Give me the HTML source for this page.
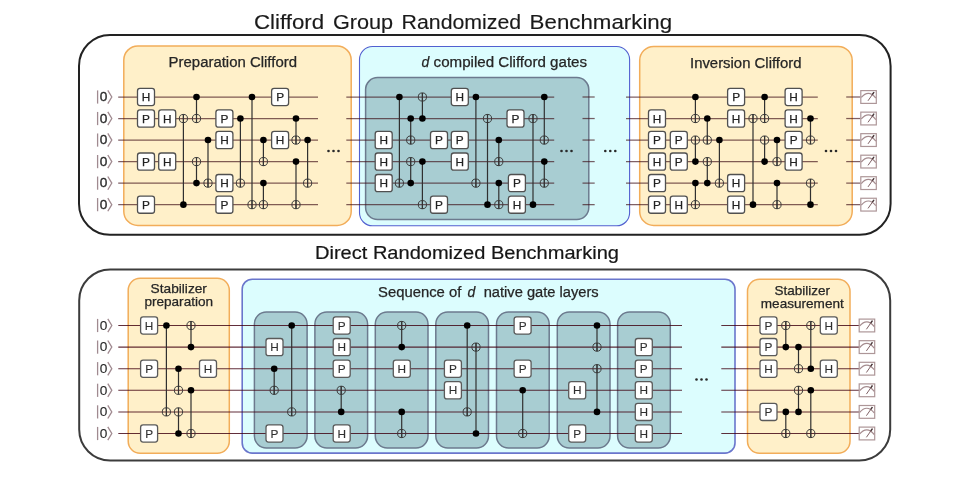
<!DOCTYPE html>
<html><head><meta charset="utf-8"><title>Randomized Benchmarking</title>
<style>html,body{margin:0;padding:0;background:#fff;width:960px;height:480px;overflow:hidden}</style>
</head><body>
<svg width="960" height="480" viewBox="0 0 960 480" style="display:block;will-change:transform">
<g font-family='"Liberation Sans", sans-serif'>
<text x="254.0" y="28.5" font-size="20.5" fill="#1a1a1a" text-anchor="start" textLength="70.2" lengthAdjust="spacingAndGlyphs" stroke="#1a1a1a" stroke-width="0.15" >Clifford</text>
<text x="332.9" y="28.5" font-size="20.5" fill="#1a1a1a" text-anchor="start" textLength="60.2" lengthAdjust="spacingAndGlyphs" stroke="#1a1a1a" stroke-width="0.15" >Group</text>
<text x="401.6" y="28.5" font-size="20.5" fill="#1a1a1a" text-anchor="start" textLength="119.6" lengthAdjust="spacingAndGlyphs" stroke="#1a1a1a" stroke-width="0.15" >Randomized</text>
<text x="529.6" y="28.5" font-size="20.5" fill="#1a1a1a" text-anchor="start" textLength="142.6" lengthAdjust="spacingAndGlyphs" stroke="#1a1a1a" stroke-width="0.15" >Benchmarking</text>
<text x="315" y="258.6" font-size="18.3" fill="#161616" text-anchor="start" textLength="304" lengthAdjust="spacingAndGlyphs" stroke="#161616" stroke-width="0.2" >Direct Randomized Benchmarking</text>
<rect x="79" y="35" width="811.60" height="199.80" rx="31" fill="#fff" stroke="#222" stroke-width="2"/>
<rect x="79.2" y="269.5" width="811.00" height="191.00" rx="31" fill="#fff" stroke="#3c3c3c" stroke-width="2"/>
<rect x="123.8" y="46" width="227.40" height="179.40" rx="14" fill="#fff0c9" stroke="#f2ad5a" stroke-width="1.5"/>
<rect x="359.5" y="46.5" width="270.10" height="179.30" rx="13" fill="#dcfdfe" stroke="#5260d0" stroke-width="1.1"/>
<rect x="365.6" y="77.6" width="223.20" height="142.00" rx="12" fill="#a8cdd2" stroke="#6c7a8e" stroke-width="1.5"/>
<rect x="639.7" y="46.4" width="212.50" height="179.00" rx="14" fill="#fff0c9" stroke="#f2ad5a" stroke-width="1.5"/>
<text x="168.6" y="66.8" font-size="14" fill="#262626" text-anchor="start" textLength="128.4" lengthAdjust="spacingAndGlyphs" stroke="#262626" stroke-width="0.25" >Preparation Clifford</text>
<text x="421.6" y="66.6" font-size="14" fill="#262626" text-anchor="start" stroke="#262626" stroke-width="0.25" font-style="italic">d</text>
<text x="433.6" y="66.6" font-size="14" fill="#262626" text-anchor="start" textLength="153.5" lengthAdjust="spacingAndGlyphs" stroke="#262626" stroke-width="0.25" >compiled Clifford gates</text>
<text x="690.0" y="68.1" font-size="14" fill="#262626" text-anchor="start" textLength="111.5" lengthAdjust="spacingAndGlyphs" stroke="#262626" stroke-width="0.25" >Inversion Clifford</text>
<line x1="97.6" y1="90.4" x2="97.6" y2="103.6" stroke="#a08a90" stroke-width="1.3"/>
<text transform="translate(103.6,101.3) scale(1.14,1)" x="0" y="0" font-size="12" fill="#2a2a2a" stroke="#2a2a2a" stroke-width="0.3" text-anchor="middle">0</text>
<polyline points="107.8,90.4 111.8,97.0 107.8,103.6" fill="none" stroke="#a08a90" stroke-width="1.3"/>
<line x1="118.2" y1="97.0" x2="318" y2="97.0" stroke="#3e0e16" stroke-opacity="0.66" stroke-width="1.25"/>
<line x1="346.3" y1="97.0" x2="554.2" y2="97.0" stroke="#3e0e16" stroke-opacity="0.66" stroke-width="1.25"/>
<line x1="582.5" y1="97.0" x2="594.7" y2="97.0" stroke="#3e0e16" stroke-opacity="0.66" stroke-width="1.25"/>
<line x1="626" y1="97.0" x2="817.8" y2="97.0" stroke="#3e0e16" stroke-opacity="0.66" stroke-width="1.25"/>
<line x1="846.2" y1="97.0" x2="860.3" y2="97.0" stroke="#3e0e16" stroke-opacity="0.66" stroke-width="1.25"/>
<rect x="860.8" y="90.6" width="15.5" height="12.8" fill="#fff" stroke="#ad9698" stroke-width="1.2"/>
<path d="M861.3,97.4 Q868.4,89.0 875.8,98.0" fill="none" stroke="#a58c8f" stroke-width="1.2"/>
<line x1="868.0" y1="100.8" x2="874.0" y2="92.2" stroke="#806266" stroke-width="1.0"/>
<line x1="872.4" y1="94.5" x2="874.0" y2="92.2" stroke="#4a3a3c" stroke-width="1.4"/>
<line x1="97.6" y1="111.93" x2="97.6" y2="125.13" stroke="#a08a90" stroke-width="1.3"/>
<text transform="translate(103.6,122.83) scale(1.14,1)" x="0" y="0" font-size="12" fill="#2a2a2a" stroke="#2a2a2a" stroke-width="0.3" text-anchor="middle">0</text>
<polyline points="107.8,111.93 111.8,118.53 107.8,125.13" fill="none" stroke="#a08a90" stroke-width="1.3"/>
<line x1="118.2" y1="118.53" x2="318" y2="118.53" stroke="#3e0e16" stroke-opacity="0.66" stroke-width="1.25"/>
<line x1="346.3" y1="118.53" x2="554.2" y2="118.53" stroke="#3e0e16" stroke-opacity="0.66" stroke-width="1.25"/>
<line x1="582.5" y1="118.53" x2="594.7" y2="118.53" stroke="#3e0e16" stroke-opacity="0.66" stroke-width="1.25"/>
<line x1="626" y1="118.53" x2="817.8" y2="118.53" stroke="#3e0e16" stroke-opacity="0.66" stroke-width="1.25"/>
<line x1="846.2" y1="118.53" x2="860.3" y2="118.53" stroke="#3e0e16" stroke-opacity="0.66" stroke-width="1.25"/>
<rect x="860.8" y="112.13" width="15.5" height="12.8" fill="#fff" stroke="#ad9698" stroke-width="1.2"/>
<path d="M861.3,118.93 Q868.4,110.53 875.8,119.53" fill="none" stroke="#a58c8f" stroke-width="1.2"/>
<line x1="868.0" y1="122.33" x2="874.0" y2="113.73" stroke="#806266" stroke-width="1.0"/>
<line x1="872.4" y1="116.03" x2="874.0" y2="113.73" stroke="#4a3a3c" stroke-width="1.4"/>
<line x1="97.6" y1="133.46" x2="97.6" y2="146.66" stroke="#a08a90" stroke-width="1.3"/>
<text transform="translate(103.6,144.36) scale(1.14,1)" x="0" y="0" font-size="12" fill="#2a2a2a" stroke="#2a2a2a" stroke-width="0.3" text-anchor="middle">0</text>
<polyline points="107.8,133.46 111.8,140.06 107.8,146.66" fill="none" stroke="#a08a90" stroke-width="1.3"/>
<line x1="118.2" y1="140.06" x2="318" y2="140.06" stroke="#3e0e16" stroke-opacity="0.66" stroke-width="1.25"/>
<line x1="346.3" y1="140.06" x2="554.2" y2="140.06" stroke="#3e0e16" stroke-opacity="0.66" stroke-width="1.25"/>
<line x1="582.5" y1="140.06" x2="594.7" y2="140.06" stroke="#3e0e16" stroke-opacity="0.66" stroke-width="1.25"/>
<line x1="626" y1="140.06" x2="817.8" y2="140.06" stroke="#3e0e16" stroke-opacity="0.66" stroke-width="1.25"/>
<line x1="846.2" y1="140.06" x2="860.3" y2="140.06" stroke="#3e0e16" stroke-opacity="0.66" stroke-width="1.25"/>
<rect x="860.8" y="133.66" width="15.5" height="12.8" fill="#fff" stroke="#ad9698" stroke-width="1.2"/>
<path d="M861.3,140.46 Q868.4,132.06 875.8,141.06" fill="none" stroke="#a58c8f" stroke-width="1.2"/>
<line x1="868.0" y1="143.86" x2="874.0" y2="135.26" stroke="#806266" stroke-width="1.0"/>
<line x1="872.4" y1="137.56" x2="874.0" y2="135.26" stroke="#4a3a3c" stroke-width="1.4"/>
<line x1="97.6" y1="154.99" x2="97.6" y2="168.19" stroke="#a08a90" stroke-width="1.3"/>
<text transform="translate(103.6,165.89000000000001) scale(1.14,1)" x="0" y="0" font-size="12" fill="#2a2a2a" stroke="#2a2a2a" stroke-width="0.3" text-anchor="middle">0</text>
<polyline points="107.8,154.99 111.8,161.59 107.8,168.19" fill="none" stroke="#a08a90" stroke-width="1.3"/>
<line x1="118.2" y1="161.59" x2="318" y2="161.59" stroke="#3e0e16" stroke-opacity="0.66" stroke-width="1.25"/>
<line x1="346.3" y1="161.59" x2="554.2" y2="161.59" stroke="#3e0e16" stroke-opacity="0.66" stroke-width="1.25"/>
<line x1="582.5" y1="161.59" x2="594.7" y2="161.59" stroke="#3e0e16" stroke-opacity="0.66" stroke-width="1.25"/>
<line x1="626" y1="161.59" x2="817.8" y2="161.59" stroke="#3e0e16" stroke-opacity="0.66" stroke-width="1.25"/>
<line x1="846.2" y1="161.59" x2="860.3" y2="161.59" stroke="#3e0e16" stroke-opacity="0.66" stroke-width="1.25"/>
<rect x="860.8" y="155.19" width="15.5" height="12.8" fill="#fff" stroke="#ad9698" stroke-width="1.2"/>
<path d="M861.3,161.99 Q868.4,153.59 875.8,162.59" fill="none" stroke="#a58c8f" stroke-width="1.2"/>
<line x1="868.0" y1="165.39000000000001" x2="874.0" y2="156.79" stroke="#806266" stroke-width="1.0"/>
<line x1="872.4" y1="159.09" x2="874.0" y2="156.79" stroke="#4a3a3c" stroke-width="1.4"/>
<line x1="97.6" y1="176.52" x2="97.6" y2="189.72" stroke="#a08a90" stroke-width="1.3"/>
<text transform="translate(103.6,187.42000000000002) scale(1.14,1)" x="0" y="0" font-size="12" fill="#2a2a2a" stroke="#2a2a2a" stroke-width="0.3" text-anchor="middle">0</text>
<polyline points="107.8,176.52 111.8,183.12 107.8,189.72" fill="none" stroke="#a08a90" stroke-width="1.3"/>
<line x1="118.2" y1="183.12" x2="318" y2="183.12" stroke="#3e0e16" stroke-opacity="0.66" stroke-width="1.25"/>
<line x1="346.3" y1="183.12" x2="554.2" y2="183.12" stroke="#3e0e16" stroke-opacity="0.66" stroke-width="1.25"/>
<line x1="582.5" y1="183.12" x2="594.7" y2="183.12" stroke="#3e0e16" stroke-opacity="0.66" stroke-width="1.25"/>
<line x1="626" y1="183.12" x2="817.8" y2="183.12" stroke="#3e0e16" stroke-opacity="0.66" stroke-width="1.25"/>
<line x1="846.2" y1="183.12" x2="860.3" y2="183.12" stroke="#3e0e16" stroke-opacity="0.66" stroke-width="1.25"/>
<rect x="860.8" y="176.72" width="15.5" height="12.8" fill="#fff" stroke="#ad9698" stroke-width="1.2"/>
<path d="M861.3,183.52 Q868.4,175.12 875.8,184.12" fill="none" stroke="#a58c8f" stroke-width="1.2"/>
<line x1="868.0" y1="186.92000000000002" x2="874.0" y2="178.32" stroke="#806266" stroke-width="1.0"/>
<line x1="872.4" y1="180.62" x2="874.0" y2="178.32" stroke="#4a3a3c" stroke-width="1.4"/>
<line x1="97.6" y1="198.05" x2="97.6" y2="211.25" stroke="#a08a90" stroke-width="1.3"/>
<text transform="translate(103.6,208.95000000000002) scale(1.14,1)" x="0" y="0" font-size="12" fill="#2a2a2a" stroke="#2a2a2a" stroke-width="0.3" text-anchor="middle">0</text>
<polyline points="107.8,198.05 111.8,204.65 107.8,211.25" fill="none" stroke="#a08a90" stroke-width="1.3"/>
<line x1="118.2" y1="204.65" x2="318" y2="204.65" stroke="#3e0e16" stroke-opacity="0.66" stroke-width="1.25"/>
<line x1="346.3" y1="204.65" x2="554.2" y2="204.65" stroke="#3e0e16" stroke-opacity="0.66" stroke-width="1.25"/>
<line x1="582.5" y1="204.65" x2="594.7" y2="204.65" stroke="#3e0e16" stroke-opacity="0.66" stroke-width="1.25"/>
<line x1="626" y1="204.65" x2="817.8" y2="204.65" stroke="#3e0e16" stroke-opacity="0.66" stroke-width="1.25"/>
<line x1="846.2" y1="204.65" x2="860.3" y2="204.65" stroke="#3e0e16" stroke-opacity="0.66" stroke-width="1.25"/>
<rect x="860.8" y="198.25" width="15.5" height="12.8" fill="#fff" stroke="#ad9698" stroke-width="1.2"/>
<path d="M861.3,205.05 Q868.4,196.65 875.8,205.65" fill="none" stroke="#a58c8f" stroke-width="1.2"/>
<line x1="868.0" y1="208.45000000000002" x2="874.0" y2="199.85" stroke="#806266" stroke-width="1.0"/>
<line x1="872.4" y1="202.15" x2="874.0" y2="199.85" stroke="#4a3a3c" stroke-width="1.4"/>
<circle cx="328.5" cy="151" r="1.3" fill="#2a2a2a"/>
<circle cx="333.5" cy="151" r="1.3" fill="#2a2a2a"/>
<circle cx="338.5" cy="151" r="1.3" fill="#2a2a2a"/>
<circle cx="561.5" cy="151" r="1.3" fill="#2a2a2a"/>
<circle cx="566.5" cy="151" r="1.3" fill="#2a2a2a"/>
<circle cx="571.5" cy="151" r="1.3" fill="#2a2a2a"/>
<circle cx="605.3" cy="151" r="1.3" fill="#2a2a2a"/>
<circle cx="610.3" cy="151" r="1.3" fill="#2a2a2a"/>
<circle cx="615.3" cy="151" r="1.3" fill="#2a2a2a"/>
<circle cx="826" cy="151" r="1.3" fill="#2a2a2a"/>
<circle cx="831" cy="151" r="1.3" fill="#2a2a2a"/>
<circle cx="836" cy="151" r="1.3" fill="#2a2a2a"/>
<rect x="137.50" y="88.40" width="17.0" height="17.2" rx="2.5" fill="#fff" stroke="#505050" stroke-width="1.3"/>
<text x="146.00" y="101.10" font-size="11.8" fill="#222222" stroke="#222222" stroke-width="0.25" text-anchor="middle">H</text>
<rect x="271.60" y="88.40" width="17.0" height="17.2" rx="2.5" fill="#fff" stroke="#505050" stroke-width="1.3"/>
<text x="280.10" y="101.10" font-size="11.8" fill="#222222" stroke="#222222" stroke-width="0.25" text-anchor="middle">P</text>
<rect x="137.50" y="109.93" width="17.0" height="17.2" rx="2.5" fill="#fff" stroke="#505050" stroke-width="1.3"/>
<text x="146.00" y="122.63" font-size="11.8" fill="#222222" stroke="#222222" stroke-width="0.25" text-anchor="middle">P</text>
<rect x="158.70" y="109.93" width="17.0" height="17.2" rx="2.5" fill="#fff" stroke="#505050" stroke-width="1.3"/>
<text x="167.20" y="122.63" font-size="11.8" fill="#222222" stroke="#222222" stroke-width="0.25" text-anchor="middle">H</text>
<rect x="215.90" y="109.93" width="17.0" height="17.2" rx="2.5" fill="#fff" stroke="#505050" stroke-width="1.3"/>
<text x="224.40" y="122.63" font-size="11.8" fill="#222222" stroke="#222222" stroke-width="0.25" text-anchor="middle">P</text>
<rect x="215.90" y="131.46" width="17.0" height="17.2" rx="2.5" fill="#fff" stroke="#505050" stroke-width="1.3"/>
<text x="224.40" y="144.16" font-size="11.8" fill="#222222" stroke="#222222" stroke-width="0.25" text-anchor="middle">H</text>
<rect x="271.60" y="131.46" width="17.0" height="17.2" rx="2.5" fill="#fff" stroke="#505050" stroke-width="1.3"/>
<text x="280.10" y="144.16" font-size="11.8" fill="#222222" stroke="#222222" stroke-width="0.25" text-anchor="middle">H</text>
<rect x="137.50" y="152.99" width="17.0" height="17.2" rx="2.5" fill="#fff" stroke="#505050" stroke-width="1.3"/>
<text x="146.00" y="165.69" font-size="11.8" fill="#222222" stroke="#222222" stroke-width="0.25" text-anchor="middle">P</text>
<rect x="158.70" y="152.99" width="17.0" height="17.2" rx="2.5" fill="#fff" stroke="#505050" stroke-width="1.3"/>
<text x="167.20" y="165.69" font-size="11.8" fill="#222222" stroke="#222222" stroke-width="0.25" text-anchor="middle">H</text>
<rect x="215.90" y="174.52" width="17.0" height="17.2" rx="2.5" fill="#fff" stroke="#505050" stroke-width="1.3"/>
<text x="224.40" y="187.22" font-size="11.8" fill="#222222" stroke="#222222" stroke-width="0.25" text-anchor="middle">H</text>
<rect x="137.50" y="196.05" width="17.0" height="17.2" rx="2.5" fill="#fff" stroke="#505050" stroke-width="1.3"/>
<text x="146.00" y="208.75" font-size="11.8" fill="#222222" stroke="#222222" stroke-width="0.25" text-anchor="middle">P</text>
<rect x="215.90" y="196.05" width="17.0" height="17.2" rx="2.5" fill="#fff" stroke="#505050" stroke-width="1.3"/>
<text x="224.40" y="208.75" font-size="11.8" fill="#222222" stroke="#222222" stroke-width="0.25" text-anchor="middle">P</text>
<line x1="183.4" y1="204.65" x2="183.4" y2="114.43" stroke="#303030" stroke-width="1.2"/>
<circle cx="183.4" cy="204.65" r="3.3" fill="#000"/>
<circle cx="183.4" cy="118.53" r="4.1" fill="none" stroke="#3a3a3a" stroke-width="1.0"/>
<line x1="183.4" y1="114.43" x2="183.4" y2="122.63" stroke="#333" stroke-width="1"/>
<line x1="196.5" y1="97.0" x2="196.5" y2="122.63" stroke="#303030" stroke-width="1.2"/>
<circle cx="196.5" cy="97.0" r="3.3" fill="#000"/>
<circle cx="196.5" cy="118.53" r="4.1" fill="none" stroke="#3a3a3a" stroke-width="1.0"/>
<line x1="196.5" y1="114.43" x2="196.5" y2="122.63" stroke="#333" stroke-width="1"/>
<line x1="196.5" y1="183.12" x2="196.5" y2="157.49" stroke="#303030" stroke-width="1.2"/>
<circle cx="196.5" cy="183.12" r="3.3" fill="#000"/>
<circle cx="196.5" cy="161.59" r="4.1" fill="none" stroke="#3a3a3a" stroke-width="1.0"/>
<line x1="196.5" y1="157.49" x2="196.5" y2="165.69" stroke="#333" stroke-width="1"/>
<line x1="208" y1="140.06" x2="208" y2="187.22" stroke="#303030" stroke-width="1.2"/>
<circle cx="208" cy="140.06" r="3.3" fill="#000"/>
<circle cx="208" cy="183.12" r="4.1" fill="none" stroke="#3a3a3a" stroke-width="1.0"/>
<line x1="208" y1="179.02" x2="208" y2="187.22" stroke="#333" stroke-width="1"/>
<line x1="240.4" y1="118.53" x2="240.4" y2="187.22" stroke="#303030" stroke-width="1.2"/>
<circle cx="240.4" cy="118.53" r="3.3" fill="#000"/>
<circle cx="240.4" cy="183.12" r="4.1" fill="none" stroke="#3a3a3a" stroke-width="1.0"/>
<line x1="240.4" y1="179.02" x2="240.4" y2="187.22" stroke="#333" stroke-width="1"/>
<line x1="252" y1="97.0" x2="252" y2="208.75" stroke="#303030" stroke-width="1.2"/>
<circle cx="252" cy="97.0" r="3.3" fill="#000"/>
<circle cx="252" cy="204.65" r="4.1" fill="none" stroke="#3a3a3a" stroke-width="1.0"/>
<line x1="252" y1="200.55" x2="252" y2="208.75" stroke="#333" stroke-width="1"/>
<line x1="263.4" y1="140.06" x2="263.4" y2="165.69" stroke="#303030" stroke-width="1.2"/>
<circle cx="263.4" cy="140.06" r="3.3" fill="#000"/>
<circle cx="263.4" cy="161.59" r="4.1" fill="none" stroke="#3a3a3a" stroke-width="1.0"/>
<line x1="263.4" y1="157.49" x2="263.4" y2="165.69" stroke="#333" stroke-width="1"/>
<line x1="263.4" y1="183.12" x2="263.4" y2="208.75" stroke="#303030" stroke-width="1.2"/>
<circle cx="263.4" cy="183.12" r="3.3" fill="#000"/>
<circle cx="263.4" cy="204.65" r="4.1" fill="none" stroke="#3a3a3a" stroke-width="1.0"/>
<line x1="263.4" y1="200.55" x2="263.4" y2="208.75" stroke="#333" stroke-width="1"/>
<line x1="296" y1="118.53" x2="296" y2="144.16" stroke="#303030" stroke-width="1.2"/>
<circle cx="296" cy="118.53" r="3.3" fill="#000"/>
<circle cx="296" cy="140.06" r="4.1" fill="none" stroke="#3a3a3a" stroke-width="1.0"/>
<line x1="296" y1="135.96" x2="296" y2="144.16" stroke="#333" stroke-width="1"/>
<line x1="296" y1="161.59" x2="296" y2="208.75" stroke="#303030" stroke-width="1.2"/>
<circle cx="296" cy="161.59" r="3.3" fill="#000"/>
<circle cx="296" cy="204.65" r="4.1" fill="none" stroke="#3a3a3a" stroke-width="1.0"/>
<line x1="296" y1="200.55" x2="296" y2="208.75" stroke="#333" stroke-width="1"/>
<line x1="307.6" y1="140.06" x2="307.6" y2="187.22" stroke="#303030" stroke-width="1.2"/>
<circle cx="307.6" cy="140.06" r="3.3" fill="#000"/>
<circle cx="307.6" cy="183.12" r="4.1" fill="none" stroke="#3a3a3a" stroke-width="1.0"/>
<line x1="307.6" y1="179.02" x2="307.6" y2="187.22" stroke="#333" stroke-width="1"/>
<rect x="375.20" y="131.46" width="17.0" height="17.2" rx="2.5" fill="#fff" stroke="#505050" stroke-width="1.3"/>
<text x="383.70" y="144.16" font-size="11.8" fill="#222222" stroke="#222222" stroke-width="0.25" text-anchor="middle">H</text>
<rect x="375.20" y="152.99" width="17.0" height="17.2" rx="2.5" fill="#fff" stroke="#505050" stroke-width="1.3"/>
<text x="383.70" y="165.69" font-size="11.8" fill="#222222" stroke="#222222" stroke-width="0.25" text-anchor="middle">H</text>
<rect x="375.20" y="174.52" width="17.0" height="17.2" rx="2.5" fill="#fff" stroke="#505050" stroke-width="1.3"/>
<text x="383.70" y="187.22" font-size="11.8" fill="#222222" stroke="#222222" stroke-width="0.25" text-anchor="middle">H</text>
<rect x="430.50" y="131.46" width="17.0" height="17.2" rx="2.5" fill="#fff" stroke="#505050" stroke-width="1.3"/>
<text x="439.00" y="144.16" font-size="11.8" fill="#222222" stroke="#222222" stroke-width="0.25" text-anchor="middle">P</text>
<rect x="430.50" y="196.05" width="17.0" height="17.2" rx="2.5" fill="#fff" stroke="#505050" stroke-width="1.3"/>
<text x="439.00" y="208.75" font-size="11.8" fill="#222222" stroke="#222222" stroke-width="0.25" text-anchor="middle">P</text>
<rect x="451.30" y="88.40" width="17.0" height="17.2" rx="2.5" fill="#fff" stroke="#505050" stroke-width="1.3"/>
<text x="459.80" y="101.10" font-size="11.8" fill="#222222" stroke="#222222" stroke-width="0.25" text-anchor="middle">H</text>
<rect x="451.30" y="131.46" width="17.0" height="17.2" rx="2.5" fill="#fff" stroke="#505050" stroke-width="1.3"/>
<text x="459.80" y="144.16" font-size="11.8" fill="#222222" stroke="#222222" stroke-width="0.25" text-anchor="middle">P</text>
<rect x="451.30" y="152.99" width="17.0" height="17.2" rx="2.5" fill="#fff" stroke="#505050" stroke-width="1.3"/>
<text x="459.80" y="165.69" font-size="11.8" fill="#222222" stroke="#222222" stroke-width="0.25" text-anchor="middle">H</text>
<rect x="507.00" y="109.93" width="17.0" height="17.2" rx="2.5" fill="#fff" stroke="#505050" stroke-width="1.3"/>
<text x="515.50" y="122.63" font-size="11.8" fill="#222222" stroke="#222222" stroke-width="0.25" text-anchor="middle">P</text>
<rect x="508.40" y="174.52" width="17.0" height="17.2" rx="2.5" fill="#fff" stroke="#505050" stroke-width="1.3"/>
<text x="516.90" y="187.22" font-size="11.8" fill="#222222" stroke="#222222" stroke-width="0.25" text-anchor="middle">P</text>
<rect x="508.40" y="196.05" width="17.0" height="17.2" rx="2.5" fill="#fff" stroke="#505050" stroke-width="1.3"/>
<text x="516.90" y="208.75" font-size="11.8" fill="#222222" stroke="#222222" stroke-width="0.25" text-anchor="middle">H</text>
<line x1="399.4" y1="97.0" x2="399.4" y2="187.22" stroke="#303030" stroke-width="1.2"/>
<circle cx="399.4" cy="97.0" r="3.3" fill="#000"/>
<circle cx="399.4" cy="183.12" r="4.1" fill="none" stroke="#3a3a3a" stroke-width="1.0"/>
<line x1="399.4" y1="179.02" x2="399.4" y2="187.22" stroke="#333" stroke-width="1"/>
<line x1="410.7" y1="118.53" x2="410.7" y2="144.16" stroke="#303030" stroke-width="1.2"/>
<circle cx="410.7" cy="118.53" r="3.3" fill="#000"/>
<circle cx="410.7" cy="140.06" r="4.1" fill="none" stroke="#3a3a3a" stroke-width="1.0"/>
<line x1="410.7" y1="135.96" x2="410.7" y2="144.16" stroke="#333" stroke-width="1"/>
<line x1="410.7" y1="183.12" x2="410.7" y2="157.49" stroke="#303030" stroke-width="1.2"/>
<circle cx="410.7" cy="183.12" r="3.3" fill="#000"/>
<circle cx="410.7" cy="161.59" r="4.1" fill="none" stroke="#3a3a3a" stroke-width="1.0"/>
<line x1="410.7" y1="157.49" x2="410.7" y2="165.69" stroke="#333" stroke-width="1"/>
<line x1="422.4" y1="118.53" x2="422.4" y2="92.9" stroke="#303030" stroke-width="1.2"/>
<circle cx="422.4" cy="118.53" r="3.3" fill="#000"/>
<circle cx="422.4" cy="97.0" r="4.1" fill="none" stroke="#3a3a3a" stroke-width="1.0"/>
<line x1="422.4" y1="92.9" x2="422.4" y2="101.1" stroke="#333" stroke-width="1"/>
<line x1="422.4" y1="161.59" x2="422.4" y2="208.75" stroke="#303030" stroke-width="1.2"/>
<circle cx="422.4" cy="161.59" r="3.3" fill="#000"/>
<circle cx="422.4" cy="204.65" r="4.1" fill="none" stroke="#3a3a3a" stroke-width="1.0"/>
<line x1="422.4" y1="200.55" x2="422.4" y2="208.75" stroke="#333" stroke-width="1"/>
<line x1="475.9" y1="97.0" x2="475.9" y2="187.22" stroke="#303030" stroke-width="1.2"/>
<circle cx="475.9" cy="97.0" r="3.3" fill="#000"/>
<circle cx="475.9" cy="183.12" r="4.1" fill="none" stroke="#3a3a3a" stroke-width="1.0"/>
<line x1="475.9" y1="179.02" x2="475.9" y2="187.22" stroke="#333" stroke-width="1"/>
<line x1="487.5" y1="204.65" x2="487.5" y2="114.43" stroke="#303030" stroke-width="1.2"/>
<circle cx="487.5" cy="204.65" r="3.3" fill="#000"/>
<circle cx="487.5" cy="118.53" r="4.1" fill="none" stroke="#3a3a3a" stroke-width="1.0"/>
<line x1="487.5" y1="114.43" x2="487.5" y2="122.63" stroke="#333" stroke-width="1"/>
<line x1="498.8" y1="140.06" x2="498.8" y2="165.69" stroke="#303030" stroke-width="1.2"/>
<circle cx="498.8" cy="140.06" r="3.3" fill="#000"/>
<circle cx="498.8" cy="161.59" r="4.1" fill="none" stroke="#3a3a3a" stroke-width="1.0"/>
<line x1="498.8" y1="157.49" x2="498.8" y2="165.69" stroke="#333" stroke-width="1"/>
<line x1="498.8" y1="183.12" x2="498.8" y2="208.75" stroke="#303030" stroke-width="1.2"/>
<circle cx="498.8" cy="183.12" r="3.3" fill="#000"/>
<circle cx="498.8" cy="204.65" r="4.1" fill="none" stroke="#3a3a3a" stroke-width="1.0"/>
<line x1="498.8" y1="200.55" x2="498.8" y2="208.75" stroke="#333" stroke-width="1"/>
<line x1="533" y1="204.65" x2="533" y2="114.43" stroke="#303030" stroke-width="1.2"/>
<circle cx="533" cy="204.65" r="3.3" fill="#000"/>
<circle cx="533" cy="118.53" r="4.1" fill="none" stroke="#3a3a3a" stroke-width="1.0"/>
<line x1="533" y1="114.43" x2="533" y2="122.63" stroke="#333" stroke-width="1"/>
<line x1="544.3" y1="97.0" x2="544.3" y2="144.16" stroke="#303030" stroke-width="1.2"/>
<circle cx="544.3" cy="97.0" r="3.3" fill="#000"/>
<circle cx="544.3" cy="140.06" r="4.1" fill="none" stroke="#3a3a3a" stroke-width="1.0"/>
<line x1="544.3" y1="135.96" x2="544.3" y2="144.16" stroke="#333" stroke-width="1"/>
<line x1="544.3" y1="161.59" x2="544.3" y2="187.22" stroke="#303030" stroke-width="1.2"/>
<circle cx="544.3" cy="161.59" r="3.3" fill="#000"/>
<circle cx="544.3" cy="183.12" r="4.1" fill="none" stroke="#3a3a3a" stroke-width="1.0"/>
<line x1="544.3" y1="179.02" x2="544.3" y2="187.22" stroke="#333" stroke-width="1"/>
<rect x="727.60" y="88.40" width="17.0" height="17.2" rx="2.5" fill="#fff" stroke="#505050" stroke-width="1.3"/>
<text x="736.10" y="101.10" font-size="11.8" fill="#222222" stroke="#222222" stroke-width="0.25" text-anchor="middle">P</text>
<rect x="785.10" y="88.40" width="17.0" height="17.2" rx="2.5" fill="#fff" stroke="#505050" stroke-width="1.3"/>
<text x="793.60" y="101.10" font-size="11.8" fill="#222222" stroke="#222222" stroke-width="0.25" text-anchor="middle">H</text>
<rect x="648.50" y="109.93" width="17.0" height="17.2" rx="2.5" fill="#fff" stroke="#505050" stroke-width="1.3"/>
<text x="657.00" y="122.63" font-size="11.8" fill="#222222" stroke="#222222" stroke-width="0.25" text-anchor="middle">H</text>
<rect x="727.60" y="109.93" width="17.0" height="17.2" rx="2.5" fill="#fff" stroke="#505050" stroke-width="1.3"/>
<text x="736.10" y="122.63" font-size="11.8" fill="#222222" stroke="#222222" stroke-width="0.25" text-anchor="middle">H</text>
<rect x="785.10" y="109.93" width="17.0" height="17.2" rx="2.5" fill="#fff" stroke="#505050" stroke-width="1.3"/>
<text x="793.60" y="122.63" font-size="11.8" fill="#222222" stroke="#222222" stroke-width="0.25" text-anchor="middle">H</text>
<rect x="648.50" y="131.46" width="17.0" height="17.2" rx="2.5" fill="#fff" stroke="#505050" stroke-width="1.3"/>
<text x="657.00" y="144.16" font-size="11.8" fill="#222222" stroke="#222222" stroke-width="0.25" text-anchor="middle">P</text>
<rect x="670.30" y="131.46" width="17.0" height="17.2" rx="2.5" fill="#fff" stroke="#505050" stroke-width="1.3"/>
<text x="678.80" y="144.16" font-size="11.8" fill="#222222" stroke="#222222" stroke-width="0.25" text-anchor="middle">P</text>
<rect x="785.10" y="131.46" width="17.0" height="17.2" rx="2.5" fill="#fff" stroke="#505050" stroke-width="1.3"/>
<text x="793.60" y="144.16" font-size="11.8" fill="#222222" stroke="#222222" stroke-width="0.25" text-anchor="middle">P</text>
<rect x="648.50" y="152.99" width="17.0" height="17.2" rx="2.5" fill="#fff" stroke="#505050" stroke-width="1.3"/>
<text x="657.00" y="165.69" font-size="11.8" fill="#222222" stroke="#222222" stroke-width="0.25" text-anchor="middle">H</text>
<rect x="670.30" y="152.99" width="17.0" height="17.2" rx="2.5" fill="#fff" stroke="#505050" stroke-width="1.3"/>
<text x="678.80" y="165.69" font-size="11.8" fill="#222222" stroke="#222222" stroke-width="0.25" text-anchor="middle">P</text>
<rect x="785.10" y="152.99" width="17.0" height="17.2" rx="2.5" fill="#fff" stroke="#505050" stroke-width="1.3"/>
<text x="793.60" y="165.69" font-size="11.8" fill="#222222" stroke="#222222" stroke-width="0.25" text-anchor="middle">H</text>
<rect x="648.50" y="174.52" width="17.0" height="17.2" rx="2.5" fill="#fff" stroke="#505050" stroke-width="1.3"/>
<text x="657.00" y="187.22" font-size="11.8" fill="#222222" stroke="#222222" stroke-width="0.25" text-anchor="middle">P</text>
<rect x="727.60" y="174.52" width="17.0" height="17.2" rx="2.5" fill="#fff" stroke="#505050" stroke-width="1.3"/>
<text x="736.10" y="187.22" font-size="11.8" fill="#222222" stroke="#222222" stroke-width="0.25" text-anchor="middle">H</text>
<rect x="648.50" y="196.05" width="17.0" height="17.2" rx="2.5" fill="#fff" stroke="#505050" stroke-width="1.3"/>
<text x="657.00" y="208.75" font-size="11.8" fill="#222222" stroke="#222222" stroke-width="0.25" text-anchor="middle">P</text>
<rect x="670.30" y="196.05" width="17.0" height="17.2" rx="2.5" fill="#fff" stroke="#505050" stroke-width="1.3"/>
<text x="678.80" y="208.75" font-size="11.8" fill="#222222" stroke="#222222" stroke-width="0.25" text-anchor="middle">H</text>
<rect x="727.60" y="196.05" width="17.0" height="17.2" rx="2.5" fill="#fff" stroke="#505050" stroke-width="1.3"/>
<text x="736.10" y="208.75" font-size="11.8" fill="#222222" stroke="#222222" stroke-width="0.25" text-anchor="middle">H</text>
<line x1="695.4" y1="97.0" x2="695.4" y2="122.63" stroke="#303030" stroke-width="1.2"/>
<circle cx="695.4" cy="97.0" r="3.3" fill="#000"/>
<circle cx="695.4" cy="118.53" r="4.1" fill="none" stroke="#3a3a3a" stroke-width="1.0"/>
<line x1="695.4" y1="114.43" x2="695.4" y2="122.63" stroke="#333" stroke-width="1"/>
<line x1="695.4" y1="161.59" x2="695.4" y2="135.96" stroke="#303030" stroke-width="1.2"/>
<circle cx="695.4" cy="161.59" r="3.3" fill="#000"/>
<circle cx="695.4" cy="140.06" r="4.1" fill="none" stroke="#3a3a3a" stroke-width="1.0"/>
<line x1="695.4" y1="135.96" x2="695.4" y2="144.16" stroke="#333" stroke-width="1"/>
<line x1="695.4" y1="183.12" x2="695.4" y2="208.75" stroke="#303030" stroke-width="1.2"/>
<circle cx="695.4" cy="183.12" r="3.3" fill="#000"/>
<circle cx="695.4" cy="204.65" r="4.1" fill="none" stroke="#3a3a3a" stroke-width="1.0"/>
<line x1="695.4" y1="200.55" x2="695.4" y2="208.75" stroke="#333" stroke-width="1"/>
<line x1="707.3" y1="118.53" x2="707.3" y2="144.16" stroke="#303030" stroke-width="1.2"/>
<circle cx="707.3" cy="118.53" r="3.3" fill="#000"/>
<circle cx="707.3" cy="140.06" r="4.1" fill="none" stroke="#3a3a3a" stroke-width="1.0"/>
<line x1="707.3" y1="135.96" x2="707.3" y2="144.16" stroke="#333" stroke-width="1"/>
<line x1="707.3" y1="183.12" x2="707.3" y2="157.49" stroke="#303030" stroke-width="1.2"/>
<circle cx="707.3" cy="183.12" r="3.3" fill="#000"/>
<circle cx="707.3" cy="161.59" r="4.1" fill="none" stroke="#3a3a3a" stroke-width="1.0"/>
<line x1="707.3" y1="157.49" x2="707.3" y2="165.69" stroke="#333" stroke-width="1"/>
<line x1="719.4" y1="140.06" x2="719.4" y2="187.22" stroke="#303030" stroke-width="1.2"/>
<circle cx="719.4" cy="140.06" r="3.3" fill="#000"/>
<circle cx="719.4" cy="183.12" r="4.1" fill="none" stroke="#3a3a3a" stroke-width="1.0"/>
<line x1="719.4" y1="179.02" x2="719.4" y2="187.22" stroke="#333" stroke-width="1"/>
<line x1="753" y1="204.65" x2="753" y2="114.43" stroke="#303030" stroke-width="1.2"/>
<circle cx="753" cy="204.65" r="3.3" fill="#000"/>
<circle cx="753" cy="118.53" r="4.1" fill="none" stroke="#3a3a3a" stroke-width="1.0"/>
<line x1="753" y1="114.43" x2="753" y2="122.63" stroke="#333" stroke-width="1"/>
<line x1="764.6" y1="97.0" x2="764.6" y2="122.63" stroke="#303030" stroke-width="1.2"/>
<circle cx="764.6" cy="97.0" r="3.3" fill="#000"/>
<circle cx="764.6" cy="118.53" r="4.1" fill="none" stroke="#3a3a3a" stroke-width="1.0"/>
<line x1="764.6" y1="114.43" x2="764.6" y2="122.63" stroke="#333" stroke-width="1"/>
<line x1="764.6" y1="161.59" x2="764.6" y2="135.96" stroke="#303030" stroke-width="1.2"/>
<circle cx="764.6" cy="161.59" r="3.3" fill="#000"/>
<circle cx="764.6" cy="140.06" r="4.1" fill="none" stroke="#3a3a3a" stroke-width="1.0"/>
<line x1="764.6" y1="135.96" x2="764.6" y2="144.16" stroke="#333" stroke-width="1"/>
<line x1="777" y1="140.06" x2="777" y2="165.69" stroke="#303030" stroke-width="1.2"/>
<circle cx="777" cy="140.06" r="3.3" fill="#000"/>
<circle cx="777" cy="161.59" r="4.1" fill="none" stroke="#3a3a3a" stroke-width="1.0"/>
<line x1="777" y1="157.49" x2="777" y2="165.69" stroke="#333" stroke-width="1"/>
<line x1="777" y1="183.12" x2="777" y2="208.75" stroke="#303030" stroke-width="1.2"/>
<circle cx="777" cy="183.12" r="3.3" fill="#000"/>
<circle cx="777" cy="204.65" r="4.1" fill="none" stroke="#3a3a3a" stroke-width="1.0"/>
<line x1="777" y1="200.55" x2="777" y2="208.75" stroke="#333" stroke-width="1"/>
<line x1="810.5" y1="118.53" x2="810.5" y2="144.16" stroke="#303030" stroke-width="1.2"/>
<circle cx="810.5" cy="118.53" r="3.3" fill="#000"/>
<circle cx="810.5" cy="140.06" r="4.1" fill="none" stroke="#3a3a3a" stroke-width="1.0"/>
<line x1="810.5" y1="135.96" x2="810.5" y2="144.16" stroke="#333" stroke-width="1"/>
<line x1="810.5" y1="204.65" x2="810.5" y2="179.02" stroke="#303030" stroke-width="1.2"/>
<circle cx="810.5" cy="204.65" r="3.3" fill="#000"/>
<circle cx="810.5" cy="183.12" r="4.1" fill="none" stroke="#3a3a3a" stroke-width="1.0"/>
<line x1="810.5" y1="179.02" x2="810.5" y2="187.22" stroke="#333" stroke-width="1"/>
<rect x="128.2" y="278.3" width="101.10" height="175.00" rx="12" fill="#fff0c9" stroke="#f2ad5a" stroke-width="1.5"/>
<rect x="242.2" y="279.2" width="492.80" height="173.90" rx="10" fill="#dcfdfe" stroke="#6a76cc" stroke-width="1.6"/>
<rect x="254.4" y="312" width="52.70" height="136.00" rx="12" fill="#a8cdd2" stroke="#6c7a8e" stroke-width="1.5"/>
<rect x="314.9" y="312" width="52.70" height="136.00" rx="12" fill="#a8cdd2" stroke="#6c7a8e" stroke-width="1.5"/>
<rect x="375.3" y="312" width="52.70" height="136.00" rx="12" fill="#a8cdd2" stroke="#6c7a8e" stroke-width="1.5"/>
<rect x="435.8" y="312" width="52.70" height="136.00" rx="12" fill="#a8cdd2" stroke="#6c7a8e" stroke-width="1.5"/>
<rect x="496.5" y="312" width="52.70" height="136.00" rx="12" fill="#a8cdd2" stroke="#6c7a8e" stroke-width="1.5"/>
<rect x="557.3" y="312" width="52.70" height="136.00" rx="12" fill="#a8cdd2" stroke="#6c7a8e" stroke-width="1.5"/>
<rect x="617.6" y="312" width="52.70" height="136.00" rx="12" fill="#a8cdd2" stroke="#6c7a8e" stroke-width="1.5"/>
<rect x="747.5" y="279.2" width="102.50" height="174.00" rx="12" fill="#fff0c9" stroke="#f2ad5a" stroke-width="1.5"/>
<text x="150.6" y="293.3" font-size="13" fill="#262626" text-anchor="start" textLength="56.3" lengthAdjust="spacingAndGlyphs" stroke="#262626" stroke-width="0.25" >Stabilizer</text>
<text x="144.4" y="306.3" font-size="13" fill="#262626" text-anchor="start" textLength="68.7" lengthAdjust="spacingAndGlyphs" stroke="#262626" stroke-width="0.25" >preparation</text>
<text x="378" y="297" font-size="14" fill="#262626" text-anchor="start" textLength="83.3" lengthAdjust="spacingAndGlyphs" stroke="#262626" stroke-width="0.25" >Sequence of</text>
<text x="467.4" y="297" font-size="14" fill="#262626" text-anchor="start" stroke="#262626" stroke-width="0.25" font-style="italic">d</text>
<text x="483.7" y="297" font-size="14" fill="#262626" text-anchor="start" textLength="115" lengthAdjust="spacingAndGlyphs" stroke="#262626" stroke-width="0.25" >native gate layers</text>
<text x="774.5" y="294.5" font-size="13" fill="#262626" text-anchor="start" textLength="55.5" lengthAdjust="spacingAndGlyphs" stroke="#262626" stroke-width="0.25" >Stabilizer</text>
<text x="760.8" y="308" font-size="13" fill="#262626" text-anchor="start" textLength="83" lengthAdjust="spacingAndGlyphs" stroke="#262626" stroke-width="0.25" >measurement</text>
<line x1="97.6" y1="318.9" x2="97.6" y2="332.1" stroke="#a08a90" stroke-width="1.3"/>
<text transform="translate(103.6,329.8) scale(1.14,1)" x="0" y="0" font-size="12" fill="#2a2a2a" stroke="#2a2a2a" stroke-width="0.1" text-anchor="middle">0</text>
<polyline points="107.8,318.9 111.8,325.5 107.8,332.1" fill="none" stroke="#a08a90" stroke-width="1.3"/>
<line x1="118.3" y1="325.5" x2="682" y2="325.5" stroke="#400010" stroke-opacity="0.82" stroke-width="1.05"/>
<line x1="721.3" y1="325.5" x2="859.2" y2="325.5" stroke="#400010" stroke-opacity="0.82" stroke-width="1.05"/>
<rect x="859.2" y="319.1" width="15.5" height="12.8" fill="#fff" stroke="#ad9698" stroke-width="1.2"/>
<path d="M859.7,325.9 Q866.8000000000001,317.5 874.2,326.5" fill="none" stroke="#a58c8f" stroke-width="1.2"/>
<line x1="866.4000000000001" y1="329.3" x2="872.4000000000001" y2="320.7" stroke="#806266" stroke-width="1.0"/>
<line x1="870.8000000000001" y1="323.0" x2="872.4000000000001" y2="320.7" stroke="#4a3a3c" stroke-width="1.4"/>
<line x1="97.6" y1="340.5" x2="97.6" y2="353.70000000000005" stroke="#a08a90" stroke-width="1.3"/>
<text transform="translate(103.6,351.40000000000003) scale(1.14,1)" x="0" y="0" font-size="12" fill="#2a2a2a" stroke="#2a2a2a" stroke-width="0.1" text-anchor="middle">0</text>
<polyline points="107.8,340.5 111.8,347.1 107.8,353.70000000000005" fill="none" stroke="#a08a90" stroke-width="1.3"/>
<line x1="118.3" y1="347.1" x2="682" y2="347.1" stroke="#400010" stroke-opacity="0.82" stroke-width="1.05"/>
<line x1="721.3" y1="347.1" x2="859.2" y2="347.1" stroke="#400010" stroke-opacity="0.82" stroke-width="1.05"/>
<rect x="859.2" y="340.70000000000005" width="15.5" height="12.8" fill="#fff" stroke="#ad9698" stroke-width="1.2"/>
<path d="M859.7,347.5 Q866.8000000000001,339.1 874.2,348.1" fill="none" stroke="#a58c8f" stroke-width="1.2"/>
<line x1="866.4000000000001" y1="350.90000000000003" x2="872.4000000000001" y2="342.3" stroke="#806266" stroke-width="1.0"/>
<line x1="870.8000000000001" y1="344.6" x2="872.4000000000001" y2="342.3" stroke="#4a3a3c" stroke-width="1.4"/>
<line x1="97.6" y1="362.09999999999997" x2="97.6" y2="375.3" stroke="#a08a90" stroke-width="1.3"/>
<text transform="translate(103.6,373.0) scale(1.14,1)" x="0" y="0" font-size="12" fill="#2a2a2a" stroke="#2a2a2a" stroke-width="0.1" text-anchor="middle">0</text>
<polyline points="107.8,362.09999999999997 111.8,368.7 107.8,375.3" fill="none" stroke="#a08a90" stroke-width="1.3"/>
<line x1="118.3" y1="368.7" x2="682" y2="368.7" stroke="#400010" stroke-opacity="0.82" stroke-width="1.05"/>
<line x1="721.3" y1="368.7" x2="859.2" y2="368.7" stroke="#400010" stroke-opacity="0.82" stroke-width="1.05"/>
<rect x="859.2" y="362.3" width="15.5" height="12.8" fill="#fff" stroke="#ad9698" stroke-width="1.2"/>
<path d="M859.7,369.09999999999997 Q866.8000000000001,360.7 874.2,369.7" fill="none" stroke="#a58c8f" stroke-width="1.2"/>
<line x1="866.4000000000001" y1="372.5" x2="872.4000000000001" y2="363.9" stroke="#806266" stroke-width="1.0"/>
<line x1="870.8000000000001" y1="366.2" x2="872.4000000000001" y2="363.9" stroke="#4a3a3c" stroke-width="1.4"/>
<line x1="97.6" y1="383.7" x2="97.6" y2="396.90000000000003" stroke="#a08a90" stroke-width="1.3"/>
<text transform="translate(103.6,394.6) scale(1.14,1)" x="0" y="0" font-size="12" fill="#2a2a2a" stroke="#2a2a2a" stroke-width="0.1" text-anchor="middle">0</text>
<polyline points="107.8,383.7 111.8,390.3 107.8,396.90000000000003" fill="none" stroke="#a08a90" stroke-width="1.3"/>
<line x1="118.3" y1="390.3" x2="682" y2="390.3" stroke="#400010" stroke-opacity="0.82" stroke-width="1.05"/>
<line x1="721.3" y1="390.3" x2="859.2" y2="390.3" stroke="#400010" stroke-opacity="0.82" stroke-width="1.05"/>
<rect x="859.2" y="383.90000000000003" width="15.5" height="12.8" fill="#fff" stroke="#ad9698" stroke-width="1.2"/>
<path d="M859.7,390.7 Q866.8000000000001,382.3 874.2,391.3" fill="none" stroke="#a58c8f" stroke-width="1.2"/>
<line x1="866.4000000000001" y1="394.1" x2="872.4000000000001" y2="385.5" stroke="#806266" stroke-width="1.0"/>
<line x1="870.8000000000001" y1="387.8" x2="872.4000000000001" y2="385.5" stroke="#4a3a3c" stroke-width="1.4"/>
<line x1="97.6" y1="405.29999999999995" x2="97.6" y2="418.5" stroke="#a08a90" stroke-width="1.3"/>
<text transform="translate(103.6,416.2) scale(1.14,1)" x="0" y="0" font-size="12" fill="#2a2a2a" stroke="#2a2a2a" stroke-width="0.1" text-anchor="middle">0</text>
<polyline points="107.8,405.29999999999995 111.8,411.9 107.8,418.5" fill="none" stroke="#a08a90" stroke-width="1.3"/>
<line x1="118.3" y1="411.9" x2="682" y2="411.9" stroke="#400010" stroke-opacity="0.82" stroke-width="1.05"/>
<line x1="721.3" y1="411.9" x2="859.2" y2="411.9" stroke="#400010" stroke-opacity="0.82" stroke-width="1.05"/>
<rect x="859.2" y="405.5" width="15.5" height="12.8" fill="#fff" stroke="#ad9698" stroke-width="1.2"/>
<path d="M859.7,412.29999999999995 Q866.8000000000001,403.9 874.2,412.9" fill="none" stroke="#a58c8f" stroke-width="1.2"/>
<line x1="866.4000000000001" y1="415.7" x2="872.4000000000001" y2="407.09999999999997" stroke="#806266" stroke-width="1.0"/>
<line x1="870.8000000000001" y1="409.4" x2="872.4000000000001" y2="407.09999999999997" stroke="#4a3a3c" stroke-width="1.4"/>
<line x1="97.6" y1="426.9" x2="97.6" y2="440.1" stroke="#a08a90" stroke-width="1.3"/>
<text transform="translate(103.6,437.8) scale(1.14,1)" x="0" y="0" font-size="12" fill="#2a2a2a" stroke="#2a2a2a" stroke-width="0.1" text-anchor="middle">0</text>
<polyline points="107.8,426.9 111.8,433.5 107.8,440.1" fill="none" stroke="#a08a90" stroke-width="1.3"/>
<line x1="118.3" y1="433.5" x2="682" y2="433.5" stroke="#400010" stroke-opacity="0.82" stroke-width="1.05"/>
<line x1="721.3" y1="433.5" x2="859.2" y2="433.5" stroke="#400010" stroke-opacity="0.82" stroke-width="1.05"/>
<rect x="859.2" y="427.1" width="15.5" height="12.8" fill="#fff" stroke="#ad9698" stroke-width="1.2"/>
<path d="M859.7,433.9 Q866.8000000000001,425.5 874.2,434.5" fill="none" stroke="#a58c8f" stroke-width="1.2"/>
<line x1="866.4000000000001" y1="437.3" x2="872.4000000000001" y2="428.7" stroke="#806266" stroke-width="1.0"/>
<line x1="870.8000000000001" y1="431.0" x2="872.4000000000001" y2="428.7" stroke="#4a3a3c" stroke-width="1.4"/>
<circle cx="696.5" cy="379.5" r="1.3" fill="#2a2a2a"/>
<circle cx="701.5" cy="379.5" r="1.3" fill="#2a2a2a"/>
<circle cx="706.5" cy="379.5" r="1.3" fill="#2a2a2a"/>
<rect x="140.60" y="316.90" width="17.0" height="17.2" rx="2.5" fill="#fff" stroke="#5a5a5a" stroke-width="1.3"/>
<text x="149.10" y="329.60" font-size="11.8" fill="#303030" stroke="#303030" stroke-width="0.12" text-anchor="middle">H</text>
<rect x="140.60" y="360.10" width="17.0" height="17.2" rx="2.5" fill="#fff" stroke="#5a5a5a" stroke-width="1.3"/>
<text x="149.10" y="372.80" font-size="11.8" fill="#303030" stroke="#303030" stroke-width="0.12" text-anchor="middle">P</text>
<rect x="140.60" y="424.90" width="17.0" height="17.2" rx="2.5" fill="#fff" stroke="#5a5a5a" stroke-width="1.3"/>
<text x="149.10" y="437.60" font-size="11.8" fill="#303030" stroke="#303030" stroke-width="0.12" text-anchor="middle">P</text>
<rect x="199.50" y="360.10" width="17.0" height="17.2" rx="2.5" fill="#fff" stroke="#5a5a5a" stroke-width="1.3"/>
<text x="208.00" y="372.80" font-size="11.8" fill="#303030" stroke="#303030" stroke-width="0.12" text-anchor="middle">H</text>
<line x1="166.4" y1="325.5" x2="166.4" y2="416.0" stroke="#303030" stroke-width="1.2"/>
<circle cx="166.4" cy="325.5" r="3.3" fill="#000"/>
<circle cx="166.4" cy="411.9" r="4.1" fill="none" stroke="#3a3a3a" stroke-width="1.0"/>
<line x1="166.4" y1="407.79999999999995" x2="166.4" y2="416.0" stroke="#333" stroke-width="1"/>
<line x1="178.5" y1="368.7" x2="178.5" y2="394.40000000000003" stroke="#303030" stroke-width="1.2"/>
<circle cx="178.5" cy="368.7" r="3.3" fill="#000"/>
<circle cx="178.5" cy="390.3" r="4.1" fill="none" stroke="#3a3a3a" stroke-width="1.0"/>
<line x1="178.5" y1="386.2" x2="178.5" y2="394.40000000000003" stroke="#333" stroke-width="1"/>
<line x1="178.5" y1="433.5" x2="178.5" y2="407.79999999999995" stroke="#303030" stroke-width="1.2"/>
<circle cx="178.5" cy="433.5" r="3.3" fill="#000"/>
<circle cx="178.5" cy="411.9" r="4.1" fill="none" stroke="#3a3a3a" stroke-width="1.0"/>
<line x1="178.5" y1="407.79999999999995" x2="178.5" y2="416.0" stroke="#333" stroke-width="1"/>
<line x1="191" y1="347.1" x2="191" y2="321.4" stroke="#303030" stroke-width="1.2"/>
<circle cx="191" cy="347.1" r="3.3" fill="#000"/>
<circle cx="191" cy="325.5" r="4.1" fill="none" stroke="#3a3a3a" stroke-width="1.0"/>
<line x1="191" y1="321.4" x2="191" y2="329.6" stroke="#333" stroke-width="1"/>
<line x1="191" y1="390.3" x2="191" y2="437.6" stroke="#303030" stroke-width="1.2"/>
<circle cx="191" cy="390.3" r="3.3" fill="#000"/>
<circle cx="191" cy="433.5" r="4.1" fill="none" stroke="#3a3a3a" stroke-width="1.0"/>
<line x1="191" y1="429.4" x2="191" y2="437.6" stroke="#333" stroke-width="1"/>
<rect x="266.00" y="338.50" width="17.0" height="17.2" rx="2.5" fill="#fff" stroke="#5a5a5a" stroke-width="1.3"/>
<text x="274.50" y="351.20" font-size="11.8" fill="#303030" stroke="#303030" stroke-width="0.12" text-anchor="middle">H</text>
<rect x="266.00" y="424.90" width="17.0" height="17.2" rx="2.5" fill="#fff" stroke="#5a5a5a" stroke-width="1.3"/>
<text x="274.50" y="437.60" font-size="11.8" fill="#303030" stroke="#303030" stroke-width="0.12" text-anchor="middle">P</text>
<rect x="333.20" y="316.90" width="17.0" height="17.2" rx="2.5" fill="#fff" stroke="#5a5a5a" stroke-width="1.3"/>
<text x="341.70" y="329.60" font-size="11.8" fill="#303030" stroke="#303030" stroke-width="0.12" text-anchor="middle">P</text>
<rect x="333.20" y="338.50" width="17.0" height="17.2" rx="2.5" fill="#fff" stroke="#5a5a5a" stroke-width="1.3"/>
<text x="341.70" y="351.20" font-size="11.8" fill="#303030" stroke="#303030" stroke-width="0.12" text-anchor="middle">H</text>
<rect x="333.20" y="360.10" width="17.0" height="17.2" rx="2.5" fill="#fff" stroke="#5a5a5a" stroke-width="1.3"/>
<text x="341.70" y="372.80" font-size="11.8" fill="#303030" stroke="#303030" stroke-width="0.12" text-anchor="middle">P</text>
<rect x="333.20" y="424.90" width="17.0" height="17.2" rx="2.5" fill="#fff" stroke="#5a5a5a" stroke-width="1.3"/>
<text x="341.70" y="437.60" font-size="11.8" fill="#303030" stroke="#303030" stroke-width="0.12" text-anchor="middle">H</text>
<rect x="393.30" y="360.10" width="17.0" height="17.2" rx="2.5" fill="#fff" stroke="#5a5a5a" stroke-width="1.3"/>
<text x="401.80" y="372.80" font-size="11.8" fill="#303030" stroke="#303030" stroke-width="0.12" text-anchor="middle">H</text>
<rect x="444.40" y="360.10" width="17.0" height="17.2" rx="2.5" fill="#fff" stroke="#5a5a5a" stroke-width="1.3"/>
<text x="452.90" y="372.80" font-size="11.8" fill="#303030" stroke="#303030" stroke-width="0.12" text-anchor="middle">P</text>
<rect x="444.40" y="381.70" width="17.0" height="17.2" rx="2.5" fill="#fff" stroke="#5a5a5a" stroke-width="1.3"/>
<text x="452.90" y="394.40" font-size="11.8" fill="#303030" stroke="#303030" stroke-width="0.12" text-anchor="middle">H</text>
<rect x="514.10" y="316.90" width="17.0" height="17.2" rx="2.5" fill="#fff" stroke="#5a5a5a" stroke-width="1.3"/>
<text x="522.60" y="329.60" font-size="11.8" fill="#303030" stroke="#303030" stroke-width="0.12" text-anchor="middle">P</text>
<rect x="514.10" y="360.10" width="17.0" height="17.2" rx="2.5" fill="#fff" stroke="#5a5a5a" stroke-width="1.3"/>
<text x="522.60" y="372.80" font-size="11.8" fill="#303030" stroke="#303030" stroke-width="0.12" text-anchor="middle">P</text>
<rect x="568.70" y="381.70" width="17.0" height="17.2" rx="2.5" fill="#fff" stroke="#5a5a5a" stroke-width="1.3"/>
<text x="577.20" y="394.40" font-size="11.8" fill="#303030" stroke="#303030" stroke-width="0.12" text-anchor="middle">H</text>
<rect x="568.70" y="424.90" width="17.0" height="17.2" rx="2.5" fill="#fff" stroke="#5a5a5a" stroke-width="1.3"/>
<text x="577.20" y="437.60" font-size="11.8" fill="#303030" stroke="#303030" stroke-width="0.12" text-anchor="middle">P</text>
<rect x="635.30" y="338.50" width="17.0" height="17.2" rx="2.5" fill="#fff" stroke="#5a5a5a" stroke-width="1.3"/>
<text x="643.80" y="351.20" font-size="11.8" fill="#303030" stroke="#303030" stroke-width="0.12" text-anchor="middle">P</text>
<rect x="635.30" y="360.10" width="17.0" height="17.2" rx="2.5" fill="#fff" stroke="#5a5a5a" stroke-width="1.3"/>
<text x="643.80" y="372.80" font-size="11.8" fill="#303030" stroke="#303030" stroke-width="0.12" text-anchor="middle">P</text>
<rect x="635.30" y="381.70" width="17.0" height="17.2" rx="2.5" fill="#fff" stroke="#5a5a5a" stroke-width="1.3"/>
<text x="643.80" y="394.40" font-size="11.8" fill="#303030" stroke="#303030" stroke-width="0.12" text-anchor="middle">H</text>
<rect x="635.30" y="403.30" width="17.0" height="17.2" rx="2.5" fill="#fff" stroke="#5a5a5a" stroke-width="1.3"/>
<text x="643.80" y="416.00" font-size="11.8" fill="#303030" stroke="#303030" stroke-width="0.12" text-anchor="middle">H</text>
<rect x="635.30" y="424.90" width="17.0" height="17.2" rx="2.5" fill="#fff" stroke="#5a5a5a" stroke-width="1.3"/>
<text x="643.80" y="437.60" font-size="11.8" fill="#303030" stroke="#303030" stroke-width="0.12" text-anchor="middle">H</text>
<line x1="291.7" y1="325.5" x2="291.7" y2="416.0" stroke="#303030" stroke-width="1.2"/>
<circle cx="291.7" cy="325.5" r="3.3" fill="#000"/>
<circle cx="291.7" cy="411.9" r="4.1" fill="none" stroke="#3a3a3a" stroke-width="1.0"/>
<line x1="291.7" y1="407.79999999999995" x2="291.7" y2="416.0" stroke="#333" stroke-width="1"/>
<line x1="274.2" y1="368.7" x2="274.2" y2="394.40000000000003" stroke="#303030" stroke-width="1.2"/>
<circle cx="274.2" cy="368.7" r="3.3" fill="#000"/>
<circle cx="274.2" cy="390.3" r="4.1" fill="none" stroke="#3a3a3a" stroke-width="1.0"/>
<line x1="274.2" y1="386.2" x2="274.2" y2="394.40000000000003" stroke="#333" stroke-width="1"/>
<line x1="341.2" y1="411.9" x2="341.2" y2="386.2" stroke="#303030" stroke-width="1.2"/>
<circle cx="341.2" cy="411.9" r="3.3" fill="#000"/>
<circle cx="341.2" cy="390.3" r="4.1" fill="none" stroke="#3a3a3a" stroke-width="1.0"/>
<line x1="341.2" y1="386.2" x2="341.2" y2="394.40000000000003" stroke="#333" stroke-width="1"/>
<line x1="401.7" y1="347.1" x2="401.7" y2="321.4" stroke="#303030" stroke-width="1.2"/>
<circle cx="401.7" cy="347.1" r="3.3" fill="#000"/>
<circle cx="401.7" cy="325.5" r="4.1" fill="none" stroke="#3a3a3a" stroke-width="1.0"/>
<line x1="401.7" y1="321.4" x2="401.7" y2="329.6" stroke="#333" stroke-width="1"/>
<line x1="401.7" y1="411.9" x2="401.7" y2="437.6" stroke="#303030" stroke-width="1.2"/>
<circle cx="401.7" cy="411.9" r="3.3" fill="#000"/>
<circle cx="401.7" cy="433.5" r="4.1" fill="none" stroke="#3a3a3a" stroke-width="1.0"/>
<line x1="401.7" y1="429.4" x2="401.7" y2="437.6" stroke="#333" stroke-width="1"/>
<line x1="467.2" y1="325.5" x2="467.2" y2="416.0" stroke="#303030" stroke-width="1.2"/>
<circle cx="467.2" cy="325.5" r="3.3" fill="#000"/>
<circle cx="467.2" cy="411.9" r="4.1" fill="none" stroke="#3a3a3a" stroke-width="1.0"/>
<line x1="467.2" y1="407.79999999999995" x2="467.2" y2="416.0" stroke="#333" stroke-width="1"/>
<line x1="476" y1="433.5" x2="476" y2="343.0" stroke="#303030" stroke-width="1.2"/>
<circle cx="476" cy="433.5" r="3.3" fill="#000"/>
<circle cx="476" cy="347.1" r="4.1" fill="none" stroke="#3a3a3a" stroke-width="1.0"/>
<line x1="476" y1="343.0" x2="476" y2="351.20000000000005" stroke="#333" stroke-width="1"/>
<line x1="522.7" y1="390.3" x2="522.7" y2="437.6" stroke="#303030" stroke-width="1.2"/>
<circle cx="522.7" cy="390.3" r="3.3" fill="#000"/>
<circle cx="522.7" cy="433.5" r="4.1" fill="none" stroke="#3a3a3a" stroke-width="1.0"/>
<line x1="522.7" y1="429.4" x2="522.7" y2="437.6" stroke="#333" stroke-width="1"/>
<line x1="597" y1="325.5" x2="597" y2="351.20000000000005" stroke="#303030" stroke-width="1.2"/>
<circle cx="597" cy="325.5" r="3.3" fill="#000"/>
<circle cx="597" cy="347.1" r="4.1" fill="none" stroke="#3a3a3a" stroke-width="1.0"/>
<line x1="597" y1="343.0" x2="597" y2="351.20000000000005" stroke="#333" stroke-width="1"/>
<line x1="597" y1="411.9" x2="597" y2="364.59999999999997" stroke="#303030" stroke-width="1.2"/>
<circle cx="597" cy="411.9" r="3.3" fill="#000"/>
<circle cx="597" cy="368.7" r="4.1" fill="none" stroke="#3a3a3a" stroke-width="1.0"/>
<line x1="597" y1="364.59999999999997" x2="597" y2="372.8" stroke="#333" stroke-width="1"/>
<rect x="760.00" y="316.90" width="17.0" height="17.2" rx="2.5" fill="#fff" stroke="#5a5a5a" stroke-width="1.3"/>
<text x="768.50" y="329.60" font-size="11.8" fill="#303030" stroke="#303030" stroke-width="0.12" text-anchor="middle">P</text>
<rect x="760.00" y="338.50" width="17.0" height="17.2" rx="2.5" fill="#fff" stroke="#5a5a5a" stroke-width="1.3"/>
<text x="768.50" y="351.20" font-size="11.8" fill="#303030" stroke="#303030" stroke-width="0.12" text-anchor="middle">P</text>
<rect x="760.00" y="360.10" width="17.0" height="17.2" rx="2.5" fill="#fff" stroke="#5a5a5a" stroke-width="1.3"/>
<text x="768.50" y="372.80" font-size="11.8" fill="#303030" stroke="#303030" stroke-width="0.12" text-anchor="middle">H</text>
<rect x="760.00" y="403.30" width="17.0" height="17.2" rx="2.5" fill="#fff" stroke="#5a5a5a" stroke-width="1.3"/>
<text x="768.50" y="416.00" font-size="11.8" fill="#303030" stroke="#303030" stroke-width="0.12" text-anchor="middle">P</text>
<rect x="820.30" y="316.90" width="17.0" height="17.2" rx="2.5" fill="#fff" stroke="#5a5a5a" stroke-width="1.3"/>
<text x="828.80" y="329.60" font-size="11.8" fill="#303030" stroke="#303030" stroke-width="0.12" text-anchor="middle">H</text>
<rect x="820.30" y="360.10" width="17.0" height="17.2" rx="2.5" fill="#fff" stroke="#5a5a5a" stroke-width="1.3"/>
<text x="828.80" y="372.80" font-size="11.8" fill="#303030" stroke="#303030" stroke-width="0.12" text-anchor="middle">H</text>
<line x1="785.8" y1="347.1" x2="785.8" y2="321.4" stroke="#303030" stroke-width="1.2"/>
<circle cx="785.8" cy="347.1" r="3.3" fill="#000"/>
<circle cx="785.8" cy="325.5" r="4.1" fill="none" stroke="#3a3a3a" stroke-width="1.0"/>
<line x1="785.8" y1="321.4" x2="785.8" y2="329.6" stroke="#333" stroke-width="1"/>
<line x1="785.8" y1="411.9" x2="785.8" y2="437.6" stroke="#303030" stroke-width="1.2"/>
<circle cx="785.8" cy="411.9" r="3.3" fill="#000"/>
<circle cx="785.8" cy="433.5" r="4.1" fill="none" stroke="#3a3a3a" stroke-width="1.0"/>
<line x1="785.8" y1="429.4" x2="785.8" y2="437.6" stroke="#333" stroke-width="1"/>
<line x1="798.5" y1="347.1" x2="798.5" y2="372.8" stroke="#303030" stroke-width="1.2"/>
<circle cx="798.5" cy="347.1" r="3.3" fill="#000"/>
<circle cx="798.5" cy="368.7" r="4.1" fill="none" stroke="#3a3a3a" stroke-width="1.0"/>
<line x1="798.5" y1="364.59999999999997" x2="798.5" y2="372.8" stroke="#333" stroke-width="1"/>
<line x1="798.5" y1="411.9" x2="798.5" y2="386.2" stroke="#303030" stroke-width="1.2"/>
<circle cx="798.5" cy="411.9" r="3.3" fill="#000"/>
<circle cx="798.5" cy="390.3" r="4.1" fill="none" stroke="#3a3a3a" stroke-width="1.0"/>
<line x1="798.5" y1="386.2" x2="798.5" y2="394.40000000000003" stroke="#333" stroke-width="1"/>
<line x1="810.8" y1="368.7" x2="810.8" y2="321.4" stroke="#303030" stroke-width="1.2"/>
<circle cx="810.8" cy="368.7" r="3.3" fill="#000"/>
<circle cx="810.8" cy="325.5" r="4.1" fill="none" stroke="#3a3a3a" stroke-width="1.0"/>
<line x1="810.8" y1="321.4" x2="810.8" y2="329.6" stroke="#333" stroke-width="1"/>
<line x1="810.8" y1="390.3" x2="810.8" y2="437.6" stroke="#303030" stroke-width="1.2"/>
<circle cx="810.8" cy="390.3" r="3.3" fill="#000"/>
<circle cx="810.8" cy="433.5" r="4.1" fill="none" stroke="#3a3a3a" stroke-width="1.0"/>
<line x1="810.8" y1="429.4" x2="810.8" y2="437.6" stroke="#333" stroke-width="1"/>
</g></svg>
</body></html>
